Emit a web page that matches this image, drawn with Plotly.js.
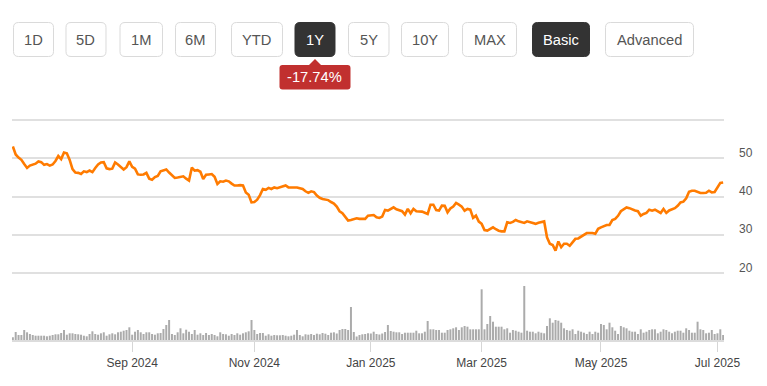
<!DOCTYPE html>
<html><head><meta charset="utf-8">
<script src="https://cdn.plot.ly/plotly-3.0.1.min.js"></script>
<style>html,body{margin:0;padding:0;background:#fff;} #chart{width:767px;height:386px;}</style>
</head><body><div id="chart"></div>
<script>
// ---------- DATA ----------
const startDate = '2024-07-03';
const endDate = '2025-07-03';
const holidays = ['2024-07-04','2024-09-02','2024-11-28','2024-12-25','2025-01-01','2025-01-09',
  '2025-01-20','2025-02-17','2025-04-18','2025-05-26','2025-06-19'];

const prices = [
  53.1,51.0,50.2,49.6,48.5,47.5,48.1,48.3,48.6,49.2,   // 0
  49.0,48.3,48.5,48.1,48.4,49.3,50.6,49.8,51.5,51.3,   // 10
  49.6,47.2,46.3,46.2,45.9,46.6,46.4,46.8,46.4,47.5,   // 20
  48.4,48.9,49.0,47.4,47.2,47.3,48.9,48.4,47.8,47.1,   // 30
  47.7,49.2,47.8,47.3,45.8,45.7,45.8,46.2,44.7,44.4,   // 40
  45.1,45.4,46.6,46.9,47.1,46.3,45.6,44.9,45.0,45.2,   // 50
  45.3,44.7,44.2,47.6,46.8,46.9,46.5,44.6,45.7,45.8,   // 60
  45.9,45.2,43.3,44.0,43.9,44.2,44.0,43.4,42.9,42.9,   // 70
  43.0,42.9,41.1,40.5,38.5,38.6,39.2,40.4,42.0,41.8,   // 80
  42.3,42.0,42.4,42.2,42.4,42.6,42.9,42.4,42.4,42.3,   // 90
  42.4,42.2,42.0,41.4,41.0,41.4,41.2,40.3,39.7,39.4,   // 100
  39.2,39.1,38.6,38.2,37.4,36.2,35.7,34.7,33.75,33.9,  // 110
  34.1,34.35,34.2,34.2,34.2,35.05,35.1,35.2,34.6,34.45,// 120
  34.8,36.5,36.35,36.8,37.2,36.7,36.5,36.2,35.3,36.8,  // 130
  35.65,36.8,36.2,36.2,36.1,35.8,35.5,37.9,37.9,36.5,  // 140
  36.35,37.65,37.6,35.9,36.9,37.4,38.35,37.9,37.4,36.35,// 150
  36.8,36.6,34.45,35.05,33.5,32.9,31.3,31.15,31.6,32.0,// 160
  31.5,31.1,30.95,30.95,33.3,33.15,33.4,33.9,33.55,33.3,// 170
  33.15,33.55,33.3,33.05,32.9,33.2,33.4,33.55,29.4,27.7,// 180
  27.4,25.9,28.3,26.8,27.7,27.7,27.2,28.2,29.0,29.1,   // 190
  29.6,30.0,30.5,30.5,30.5,30.3,31.6,32.0,32.4,32.6,   // 200
  32.6,33.9,34.2,35.0,36.2,36.8,37.2,37.0,36.6,36.4,   // 210
  36.2,35.05,35.5,35.75,36.6,36.35,36.6,36.2,35.75,36.8,// 220
  35.75,36.4,36.6,37.0,37.6,38.5,38.7,39.55,41.3,41.55,// 230
  41.55,41.3,40.95,40.95,41.0,41.55,41.1,41.2,42.3,43.6,// 240
  43.7                                                 // 250
];

// volume, millions of shares
const volumes = [
  0.27,0.80,0.50,0.50,1.00,0.77,0.60,0.50,0.43,0.43,
  0.43,0.43,0.37,0.43,0.50,0.57,0.57,0.70,1.00,0.53,
  0.67,0.67,0.60,0.57,0.53,0.43,0.37,0.60,0.87,0.60,
  0.53,0.67,0.77,0.43,0.57,0.67,0.57,0.77,0.83,0.93,
  1.00,1.27,0.53,0.83,1.00,0.77,0.60,0.77,0.77,0.60,
  0.53,0.67,0.70,1.10,1.50,2.00,0.60,0.50,0.77,1.17,
  0.67,1.03,0.83,0.60,1.00,0.53,0.67,0.50,0.70,0.50,
  0.60,0.50,0.37,0.77,0.60,0.57,0.43,0.60,0.50,0.67,
  0.53,0.67,0.77,0.87,2.00,1.00,0.60,0.70,0.70,0.43,
  0.57,0.43,0.50,0.47,0.47,0.50,0.43,0.37,0.43,0.53,
  1.00,0.50,0.37,0.57,0.53,0.60,0.50,0.63,0.57,0.70,
  0.63,0.50,0.73,0.77,0.65,1.00,1.10,1.10,1.00,3.30,
  0.80,0.35,0.50,0.57,0.60,0.67,0.65,0.83,0.60,0.55,
  0.65,0.80,1.50,0.90,0.83,0.77,0.77,0.60,0.73,0.73,
  0.73,0.73,0.93,0.67,0.67,0.83,1.90,1.07,1.07,1.00,
  1.00,0.73,0.73,1.00,1.07,1.17,1.27,1.00,1.27,1.40,
  1.33,1.07,1.07,1.07,1.07,5.07,1.07,1.60,2.40,1.83,
  1.33,1.33,1.33,1.07,1.17,0.73,1.00,0.93,0.83,0.73,
  5.40,0.93,0.83,0.83,0.67,0.83,0.73,0.67,1.40,2.17,
  1.73,2.00,1.93,1.73,1.17,1.00,0.93,1.07,0.60,0.93,
  0.83,0.73,0.60,0.83,0.60,0.83,0.73,1.60,1.50,1.07,
  1.73,1.27,0.93,0.60,1.40,1.27,1.17,0.93,0.83,0.83,
  0.60,1.07,0.73,0.83,1.00,1.07,1.07,0.67,0.83,1.07,
  1.00,0.83,0.67,0.83,0.93,0.93,0.73,1.17,1.00,0.73,
  0.73,1.83,1.07,1.00,0.67,0.73,1.00,0.60,0.67,1.07,
  0.50
];

const tickDates = ['2024-09-03','2024-11-01','2025-01-02','2025-03-03','2025-05-01','2025-07-01'];
const tickLabels = ['Sep 2024','Nov 2024','Jan 2025','Mar 2025','May 2025','Jul 2025'];
const priceTicks = [20,30,40,50,60];
const priceTickLabels = ['20','30','40','50',''];
const rangeButtons = ['1D','5D','1M','6M','YTD','1Y','5Y','10Y','MAX'];
const modeButtons = ['Basic','Advanced'];
const activeRange = '1Y';
const activeMode = 'Basic';
const changeLabel = '-17.74%';

// ---------- trading calendar ----------
function tradingDays(start, end, hol){
  const out = []; const hs = new Set(hol);
  let d = new Date(start + 'T00:00:00Z'); const e = new Date(end + 'T00:00:00Z');
  while (d <= e){
    const dow = d.getUTCDay(); const s = d.toISOString().slice(0,10);
    if (dow !== 0 && dow !== 6 && !hs.has(s)) out.push(s);
    d = new Date(d.getTime() + 86400000);
  }
  return out;
}
const dates = tradingDays(startDate, endDate, holidays);
const n = Math.min(dates.length, prices.length, volumes.length);

// ---------- layout helpers ----------
const W = 767, H = 386, M = {l:12, r:43, t:112, b:46};
const PW = W - M.l - M.r, PH = H - M.t - M.b;
const fx = x => ((x - M.l) / PW).toFixed(5);
const fy = y => ((H - M.b - y) / PH).toFixed(5);
function rr(x0,y0,x1,y1,r){
  const P = (x,y) => fx(x) + ',' + fy(y);
  return `M${P(x0+r,y0)} L${P(x1-r,y0)} Q${P(x1,y0)} ${P(x1,y0+r)} L${P(x1,y1-r)} Q${P(x1,y1)} ${P(x1-r,y1)} ` +
         `L${P(x0+r,y1)} Q${P(x0,y1)} ${P(x0,y1-r)} L${P(x0,y0+r)} Q${P(x0,y0)} ${P(x0+r,y0)} Z`;
}
const FONT = '"Liberation Sans", Arial, Helvetica, sans-serif';
const btnX = [[13.5,53.5],[66,106],[120,162.5],[175.5,215.5],[231.5,282.5],[295,335],[348.5,389],[401.5,448.5],[462.5,516.5],
              [532.5,589.5],[605.5,693.5]];
const allButtons = rangeButtons.concat(modeButtons);
const shapes = [], annotations = [];
allButtons.forEach((label, i) => {
  const [x0,x1] = btnX[i];
  const active = (label === activeRange && i < rangeButtons.length) || (label === activeMode && i >= rangeButtons.length);
  shapes.push({type:'path', xref:'paper', yref:'paper', path: rr(x0,22.5,x1,56.5,5),
    fillcolor: active ? '#333333' : '#ffffff', line:{color: active ? '#333333' : '#dadada', width:1}, layer:'above'});
  annotations.push({xref:'paper', yref:'paper', x: fx((x0+x1)/2), y: fy(40), xanchor:'center', yanchor:'middle',
    text: label, showarrow:false, font:{family:FONT, size:14.7, color: active ? '#ffffff' : '#555555'}});
});
// change badge
const bx0 = 279.5, bx1 = 350.5, by0 = 65, by1 = 89.5;
shapes.push({type:'path', xref:'paper', yref:'paper', path: rr(bx0,by0,bx1,by1,3), fillcolor:'#c1302f', line:{width:0}, layer:'above'});
shapes.push({type:'path', xref:'paper', yref:'paper',
  path:`M${fx(308.5)},${fy(65.5)} L${fx(315)},${fy(59)} L${fx(321.5)},${fy(65.5)} Z`, fillcolor:'#c1302f', line:{width:0}, layer:'above'});
annotations.push({xref:'paper', yref:'paper', x: fx((bx0+bx1)/2), y: fy(77.5), xanchor:'center', yanchor:'middle',
  text: changeLabel, showarrow:false, font:{family:FONT, size:14.7, color:'#ffffff'}});

const x = dates.slice(0,n);
const traces = [
  {type:'bar', x:x, y:volumes.slice(0,n), xaxis:'x', yaxis:'y2', marker:{color:'#ababab', line:{width:0}}, hoverinfo:'skip'},
  {type:'scatter', mode:'lines', x:x, y:prices.slice(0,n), xaxis:'x', yaxis:'y', line:{color:'#ff7b00', width:2.6}, hoverinfo:'skip'}
];

// price axis: 20 -> y=273.3px, 60 -> y=120px  (3.833 px per unit)
const pxPerUnit = (273.3 - 120) / 40;
const priceBottomPx = 281;
const priceRange = [20 - (priceBottomPx - 273.3) / pxPerUnit, 60 + (120 - M.t) / pxPerUnit];

const layout = {
  width: W, height: H, margin: {l:M.l, r:M.r, t:M.t, b:M.b, pad:0},
  paper_bgcolor:'#ffffff', plot_bgcolor:'#ffffff', showlegend:false,
  font:{family:FONT, size:12, color:'#555'},
  bargap: 0.3,
  xaxis:{type:'category', range:[-0.3, n - 0.7], anchor:'y2', showgrid:false, zeroline:false,
    showline:true, linecolor:'#dcdcdc', linewidth:2, ticks:'outside', ticklen:10, tickwidth:1, tickcolor:'#d6d6d6',
    tickmode:'array', tickvals:tickDates, ticktext:tickLabels, tickfont:{size:12, color:'#444'}, ticklabelstandoff:1, fixedrange:true},
  yaxis:{domain:[(H - M.b - priceBottomPx)/PH, 1], range:priceRange, side:'right', anchor:'x',
    tickmode:'array', tickvals:priceTicks, ticktext:priceTickLabels, showgrid:true, gridcolor:'#e0e0e0', gridwidth:2,
    zeroline:false, showline:false, ticks:'', ticklabelshift:-6, ticklabelstandoff:14, tickfont:{size:12, color:'#555'}, fixedrange:true},
  yaxis2:{domain:[0, 54/PH], range:[0, 5.4], anchor:'x', visible:false, fixedrange:true},
  shapes: shapes, annotations: annotations
};
Plotly.newPlot('chart', traces, layout, {displayModeBar:false, staticPlot:true});
</script></body></html>
